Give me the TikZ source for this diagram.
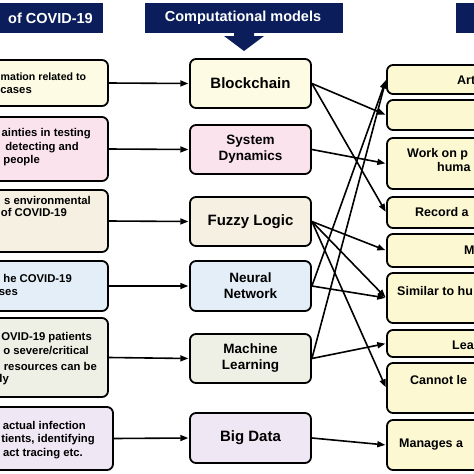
\documentclass[tikz,border=0pt]{standalone}
\usepackage{fontspec}
\setmainfont{Liberation Sans}
\usetikzlibrary{arrows.meta}
\definecolor{navy}{HTML}{0B1E5B}
\definecolor{cA}{HTML}{FDFBE3}
\definecolor{cB}{HTML}{FBE3EE}
\definecolor{cC}{HTML}{F6F0E2}
\definecolor{cD}{HTML}{E4EEF8}
\definecolor{cE}{HTML}{EEF0E6}
\definecolor{cF}{HTML}{EFE7F4}
\definecolor{cR}{HTML}{FCF8D2}
\tikzset{
  hdr/.style={fill=navy, draw=none, inner sep=0pt},
  hdrtxt/.style={text=white, font=\bfseries\fontsize{14.5}{16}\selectfont, inner sep=0pt},
  bx/.style={draw=black, line width=1.8pt, rounded corners=6pt, inner sep=0pt},
  ltxt/.style={font=\bfseries\fontsize{11.3}{13}\selectfont, inner sep=0pt, anchor=east},
  rtxt/.style={font=\bfseries\fontsize{12.5}{14}\selectfont, inner sep=0pt, anchor=west},
  mone/.style={font=\bfseries\fontsize{15}{17}\selectfont, align=center},
  mtwo/.style={font=\bfseries\fontsize{13.5}{16}\selectfont, align=center},
  arr/.style={-{Triangle[length=8pt,width=6pt]}, line width=1.6pt, shorten >=0.8pt},
}
\begin{document}
\begin{tikzpicture}[x=1pt,y=-1pt]
\useasboundingbox (0,0) rectangle (474,474);
\clip (0,0) rectangle (474,474);
\fill[white] (0,0) rectangle (474,474);

% headers
\node[hdr, minimum width=163pt, minimum height=30pt] (hL) at (21.5,18) {};
\node[hdrtxt, anchor=east] (hLt) at (93,18) {of COVID-19};
\node[hdr, minimum width=198pt, minimum height=30pt] (hM) at (244,18) {};
\node[hdrtxt] (hMt) at (243,18) {Computational models};
\node[hdr, minimum width=104pt, minimum height=30pt] (hR) at (508,18) {};
\fill[navy] (234,32) -- (254,32) -- (254,36) -- (264,36) -- (244,51) -- (224,36) -- (234,36) -- cycle;

% left boxes
\node[bx, fill=cA, minimum width=168pt, minimum height=46pt] (L1) at (24,83) {};
\node[bx, fill=cB, minimum width=168pt, minimum height=64pt] (L2) at (24,149) {};
\node[bx, fill=cC, minimum width=168pt, minimum height=62pt] (L3) at (24,221) {};
\node[bx, fill=cD, minimum width=168pt, minimum height=50pt] (L4) at (24,286) {};
\node[bx, fill=cE, minimum width=168pt, minimum height=79pt] (L5) at (24,357.5) {};
\node[bx, fill=cF, minimum width=173pt, minimum height=63pt] (L6) at (26.5,438.5) {};

\node[ltxt, anchor=west, font=\bfseries\fontsize{10.6}{13}\selectfont] (t1a) at (0.5,77) {mation related to};
\node[ltxt] (t1b) at (32,91) {cases};
\node[ltxt] (t2a) at (91,134) {ainties in testing};
\node[ltxt] (t2b) at (79,148) {detecting and};
\node[ltxt] (t2c) at (40,161) {people};
\node[ltxt] (t3a) at (91,200) {s environmental};
\node[ltxt] (t3b) at (67,212) {of COVID-19};
\node[ltxt] (t4a) at (72,278) {he COVID-19};
\node[ltxt] (t4b) at (18,293) {ses};
\node[ltxt] (t5a) at (92,338) {OVID-19 patients};
\node[ltxt] (t5b) at (89,351) {o severe/critical};
\node[ltxt] (t5c) at (97,366) {resources can be};
\node[ltxt] (t5d) at (9,380) {ly};
\node[ltxt] (t6a) at (86,425) {actual infection};
\node[ltxt] (t6b) at (95,440) {tients, identifying};
\node[ltxt] (t6c) at (83,454) {act tracing etc.};

% middle boxes
\node[bx, fill=cA, minimum width=121pt, minimum height=49pt, mone] (M1) at (250.5,83.5) {Blockchain};
\node[bx, fill=cB, minimum width=121pt, minimum height=49pt, mtwo] (M2) at (250.5,149.5) {System\\Dynamics};
\node[bx, fill=cC, minimum width=121pt, minimum height=49pt, mone] (M3) at (250.5,221.5) {Fuzzy Logic};
\node[bx, fill=cD, minimum width=121pt, minimum height=50pt, mtwo] (M4) at (250.5,286) {Neural\\Network};
\node[bx, fill=cE, minimum width=121pt, minimum height=49pt, mtwo] (M5) at (250.5,358.5) {Machine\\Learning};
\node[bx, fill=cF, minimum width=121pt, minimum height=50pt, mone] (M6) at (250.5,438) {Big Data};

% right boxes
\node[bx, fill=cR, minimum width=160pt, minimum height=29pt] (R1) at (467,79.5) {};
\node[bx, fill=cR, minimum width=160pt, minimum height=30pt] (R2) at (467,115) {};
\node[bx, fill=cR, minimum width=160pt, minimum height=51pt] (R3) at (467,163.5) {};
\node[bx, fill=cR, minimum width=160pt, minimum height=31pt] (R4) at (467,212.5) {};
\node[bx, fill=cR, minimum width=160pt, minimum height=33pt] (R5) at (467,250.5) {};
\node[bx, fill=cR, minimum width=160pt, minimum height=50pt] (R6) at (467,298) {};
\node[bx, fill=cR, minimum width=160pt, minimum height=27pt] (R7) at (467,343.5) {};
\node[bx, fill=cR, minimum width=160pt, minimum height=50pt] (R8) at (467,388) {};
\node[bx, fill=cR, minimum width=160pt, minimum height=50pt] (R9) at (467,445) {};

\node[rtxt] (r1) at (457,80) {Art};
\node[rtxt] (r3a) at (407,154) {Work on p};
\node[rtxt] (r3b) at (437,167) {huma};
\node[rtxt] (r4) at (415,212) {Record a};
\node[rtxt] (r5) at (464,250) {M};
\node[rtxt] (r6) at (397,291) {Similar to hu};
\node[rtxt] (r7) at (452,345) {Lea};
\node[rtxt] (r8) at (410,380) {Cannot le};
\node[rtxt] (r9) at (399,445) {Manages a};

% left -> middle
\draw[arr] (L1.east) -- (M1.west);
\draw[arr] (L2.east) -- (M2.west);
\draw[arr] (L3.east) -- (M3.west);
\draw[arr] (L4.east) -- (M4.west);
\draw[arr] (L5.east) -- (M5.west);
\draw[arr] (L6.east) -- (M6.west);

% middle -> right
\draw[arr] (M1.east) -- (R2.west);
\draw[arr] (M1.east) -- (R4.west);
\draw[arr] (M2.east) -- (R3.west);
\draw[arr] (M3.east) -- (R5.west);
\draw[arr] (M3.east) -- (R6.west);
\draw[arr] (M3.east) -- (R8.west);
\draw[arr] (M4.east) -- (R1.west);
\draw[arr] (M4.east) -- (R6.west);
\draw[arr] (M5.east) -- (R1.west);
\draw[arr] (M5.east) -- (R7.west);
\draw[arr] (M6.east) -- (R9.west);
\end{tikzpicture}
\end{document}
